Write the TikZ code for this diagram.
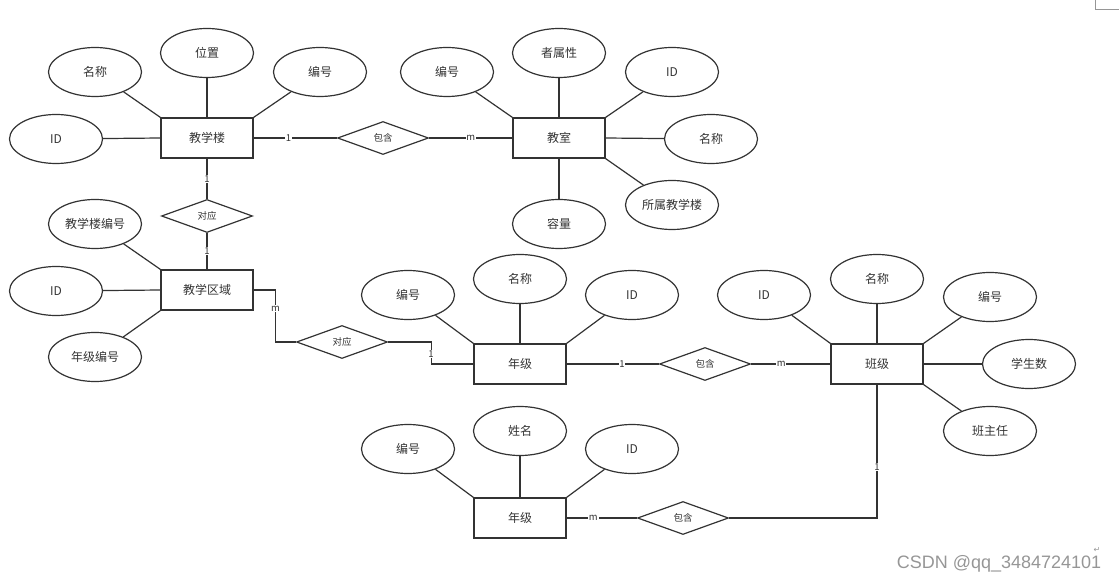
\documentclass[tikz,border=0pt]{standalone}
\usepackage{fontspec}
\setmainfont{Noto Sans CJK SC}
\newfontfamily\wmfont{Liberation Sans}
\newfontfamily\symfont{DejaVu Sans}
\usetikzlibrary{shapes.geometric}
\definecolor{ink}{RGB}{51,51,51}
\definecolor{wmgray}{RGB}{150,150,150}

\begin{document}
\begin{tikzpicture}[x=1pt, y=-1pt, inner sep=1pt]
	\tikzstyle{every node}=[align=center, text=ink, font=\fontsize{12}{14}\selectfont]
	\tikzstyle{attr}=[draw=ink, line width=1.2pt, ellipse, minimum width=93pt, minimum height=49pt, inner sep=0pt]
	\tikzstyle{entity}=[draw=ink, line width=1.2pt, rectangle, minimum width=92pt, minimum height=40pt, inner sep=0pt]
	\tikzstyle{rel}=[draw=ink, line width=1.2pt, diamond, aspect=2.8, minimum width=91pt, minimum height=33pt, inner sep=0pt, font=\fontsize{9.5}{11}\selectfont]
	\tikzstyle{card}=[fill=white, inner sep=0.8pt, font=\fontsize{9.5}{10}\selectfont]
	\tikzstyle{link}=[draw=ink, line width=1.2pt]
	\useasboundingbox (0,0) rectangle (1119,585);

		% entities
		\node[entity] (building) at (207, 138) {教学楼};
		\node[entity] (room)     at (559, 138) {教室};
		\node[entity] (area)     at (207, 290) {教学区域};
		\node[entity] (grade)    at (520, 364) {年级};
		\node[entity] (class)    at (877, 364) {班级};
		\node[entity] (grade2)   at (520, 518) {年级};

		% relations
		\node[rel] (has1) at (383, 138) {包含};
		\node[rel] (map1) at (207, 216) {对应};
		\node[rel] (map2) at (342, 342) {对应};
		\node[rel] (has2) at (705, 364) {包含};
		\node[rel] (has3) at (683, 518) {包含};

		% attributes
		\node[attr] (bname) at (95, 72)   {名称};
		\node[attr] (bpos)  at (207, 53)  {位置};
		\node[attr] (bno)   at (320, 72)  {编号};
		\node[attr] (bid)   at (56, 139)  {ID};
		\node[attr] (rno)   at (447, 72)  {编号};
		\node[attr] (rattr) at (559, 53)  {者属性};
		\node[attr] (rid)   at (672, 72)  {ID};
		\node[attr] (rname) at (711, 139) {名称};
		\node[attr] (rbld)  at (672, 205) {所属教学楼};
		\node[attr] (rcap)  at (559, 224) {容量};
		\node[attr] (abno)  at (95, 224)  {教学楼编号};
		\node[attr] (aid)   at (56, 291)  {ID};
		\node[attr] (agno)  at (95, 357)  {年级编号};
		\node[attr] (gno)   at (408, 295) {编号};
		\node[attr] (gname) at (520, 279) {名称};
		\node[attr] (gid)   at (632, 295) {ID};
		\node[attr] (cid)   at (764, 295) {ID};
		\node[attr] (cname) at (877, 279) {名称};
		\node[attr] (cno)   at (990, 297) {编号};
		\node[attr] (cnum)  at (1029, 364) {学生数};
		\node[attr] (chead) at (990, 431) {班主任};
		\node[attr] (sno)   at (408, 449) {编号};
		\node[attr] (sname) at (520, 431) {姓名};
		\node[attr] (sid)   at (632, 449) {ID};

		% attribute links
		\draw[link] (bname) -- (building.north west);
		\draw[link] (bpos) -- (building.north);
		\draw[link] (bno) -- (building.north east);
		\draw[link] (bid) -- (building.west);
		\draw[link] (rno) -- (room.north west);
		\draw[link] (rattr) -- (room.north);
		\draw[link] (rid) -- (room.north east);
		\draw[link] (rname) -- (room.east);
		\draw[link] (rbld) -- (room.south east);
		\draw[link] (rcap) -- (room.south);
		\draw[link] (abno) -- (area.north west);
		\draw[link] (aid) -- (area.west);
		\draw[link] (agno) -- (area.south west);
		\draw[link] (gno) -- (grade.north west);
		\draw[link] (gname) -- (grade.north);
		\draw[link] (gid) -- (grade.north east);
		\draw[link] (cid) -- (class.north west);
		\draw[link] (cname) -- (class.north);
		\draw[link] (cno) -- (class.north east);
		\draw[link] (cnum) -- (class.east);
		\draw[link] (chead) -- (class.south east);
		\draw[link] (sno) -- (grade2.north west);
		\draw[link] (sname) -- (grade2.north);
		\draw[link] (sid) -- (grade2.north east);

		% relation links
		\draw[link] (building.east) -- node[card, pos=0.42]{1} (has1.west);
		\draw[link] (has1.east) -- node[card]{m} (room.west);
		\draw[link] (building.south) -- node[card]{1} (map1.north);
		\draw[link] (map1.south) -- node[card]{1} (area.north);
		\draw[link] (area.east) -- ++(22,0) |- node[card, pos=0.18]{m} (map2.west);
		\draw[link] (map2.east) -- ++(43,0) |- node[card, pos=0.27]{1} (grade.west);
		\draw[link] (grade.east) -- node[card, pos=0.6]{1} (has2.west);
		\draw[link] (has2.east) -- node[card, pos=0.38]{m} (class.west);
		\draw[link] (class.south) |- node[card, pos=0.31]{1} (has3.east);
		\draw[link] (grade2.east) -- node[card, pos=0.38]{m} (has3.west);

		% page marks
		\draw[wmgray, line width=1pt] (1095,0) -- (1095,10) -- (1119,10);
		\node[font=\symfont\fontsize{8}{9}\selectfont, text=wmgray] (ret) at (1097, 550) {↵};
		\node[font=\wmfont\fontsize{18}{20}\selectfont, text=wmgray] (wm) at (999, 564) {CSDN @qq\_3484724101};
	\end{tikzpicture}
\end{document}
